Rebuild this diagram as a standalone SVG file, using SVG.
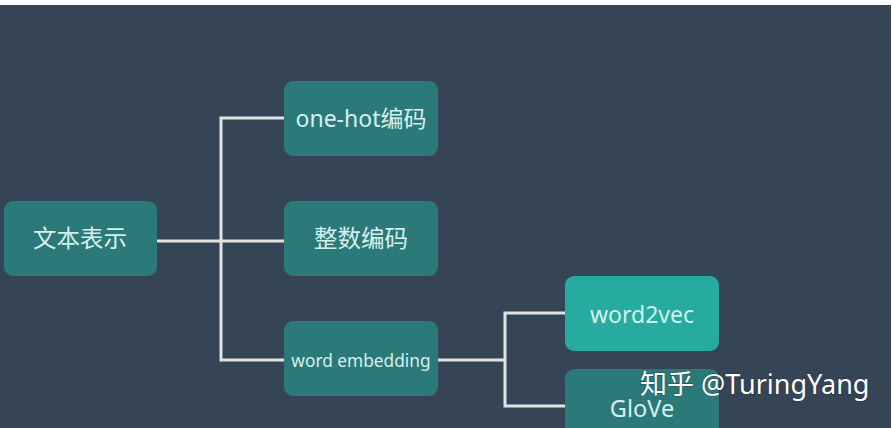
<svg xmlns="http://www.w3.org/2000/svg" width="892" height="428" viewBox="0 0 892 428">
<defs>
<style>
.node rect{fill:#2b7979;}
.node.light rect{fill:#27aba1;}
.node text{fill:#d6f0ec;font-family:"Noto Sans","Noto Sans CJK SC",sans-serif;text-anchor:middle;dominant-baseline:central;}
.conn path{fill:none;stroke:#e2e2e2;stroke-width:3;}
.wm{fill:#ffffff;font-family:"Noto Sans","Noto Sans CJK SC",sans-serif;font-size:27px;}
</style>
</defs>
<rect x="0" y="0" width="892" height="428" fill="#354556"/>
<rect x="0" y="0" width="892" height="5" fill="#ffffff"/>
<rect x="891" y="0" width="1" height="428" fill="#ffffff"/>
<g class="conn">
<path d="M157,241 H284"/>
<path d="M284,118 H221 V360 H284"/>
<path d="M438,360 H505"/>
<path d="M565,313 H505 V406 H565"/>
</g>
<g id="n-text" class="node"><rect x="4" y="201" width="153" height="75" rx="9"/><text x="80" y="238" font-size="23.5">文本表示</text></g>
<g id="n-onehot" class="node"><rect x="284" y="81" width="154" height="75" rx="9"/><text x="361" y="118" font-size="23">one-hot编码</text></g>
<g id="n-int" class="node"><rect x="284" y="201" width="154" height="75" rx="9"/><text x="361" y="238" font-size="23.5">整数编码</text></g>
<g id="n-we" class="node"><rect x="284" y="321" width="154" height="75" rx="9"/><text x="361" y="360" font-size="17.3">word embedding</text></g>
<g id="n-w2v" class="node light"><rect x="565" y="276" width="154" height="75" rx="9"/><text x="642" y="314" font-size="23">word2vec</text></g>
<g id="n-glove" class="node"><rect x="565" y="369" width="154" height="75" rx="9"/><text x="642" y="408" font-size="23.5">GloVe</text></g>
<text class="wm" x="640" y="394" style="paint-order:stroke;stroke:#222;stroke-opacity:0.35;stroke-width:1.5px">知乎 @TuringYang</text>
</svg>
